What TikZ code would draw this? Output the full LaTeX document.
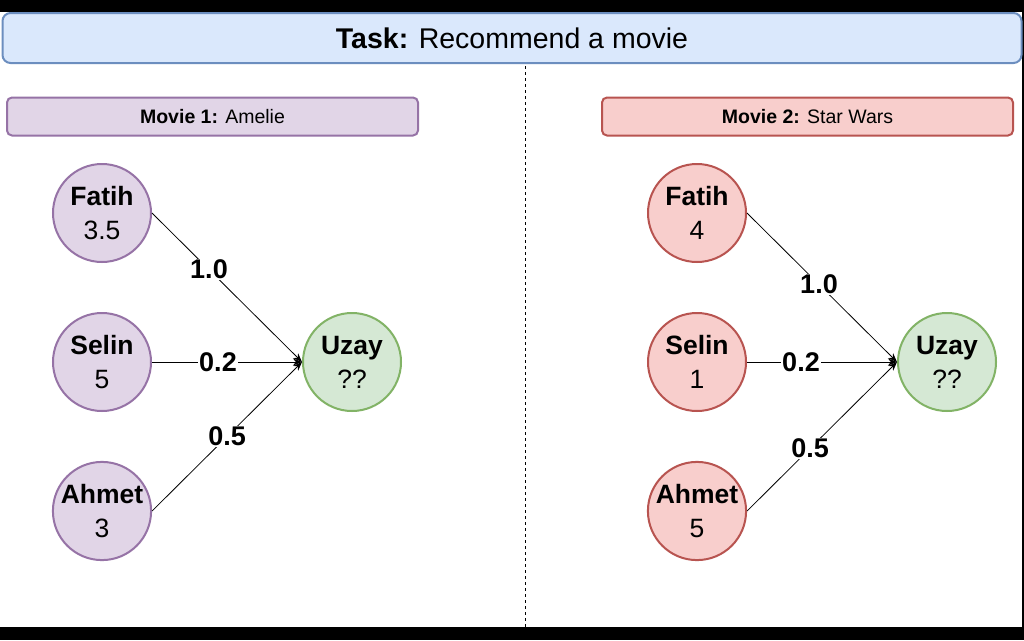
\documentclass[tikz,border=0pt]{standalone}
\usepackage{fontspec}
\setmainfont{Liberation Sans}
\usepackage{tikz}
\usetikzlibrary{arrows.meta}

\definecolor{taskfill}{HTML}{DAE8FC}
\definecolor{taskline}{HTML}{6C8EBF}
\definecolor{amefill}{HTML}{E1D5E7}
\definecolor{ameline}{HTML}{9673A6}
\definecolor{swfill}{HTML}{F8CECC}
\definecolor{swline}{HTML}{B85450}
\definecolor{uzfill}{HTML}{D5E8D4}
\definecolor{uzline}{HTML}{82B366}

\begin{document}
\begin{tikzpicture}[x=1pt, y=-1pt,
    person/.style={circle, draw, line width=2pt, minimum size=98pt, inner sep=0pt, align=center, font=\fontsize{26.5}{34}\selectfont},
    moviebox/.style={rectangle, rounded corners=5pt, draw, line width=2pt, minimum width=411pt, minimum height=38pt, font=\fontsize{19.5}{22}\selectfont},
    weight/.style={fill=white, inner sep=1pt, font=\fontsize{27}{30}\selectfont\bfseries},
    link/.style={-{Stealth[length=9pt,width=7pt]}, line width=0.8pt}]
    \useasboundingbox (0,0) rectangle (1024,640);
    \fill[white] (0,0) rectangle (1024,640);
    % screen edges
    \fill[black] (0,0) rectangle (1024,12);
    \fill[black] (0,627) rectangle (1024,640);
    \fill[black] (1022,12) rectangle (1024,627);

    % Task header
    \node[rectangle, rounded corners=8pt, draw=taskline, fill=taskfill, line width=2pt,
          minimum width=1019pt, minimum height=50pt, font=\fontsize{28.5}{32}\selectfont]
          (task) at (512,38) {\textbf{Task:} Recommend a movie};
    \draw[dashed, line width=0.8pt, dash pattern=on 3pt off 3pt] (525,66) -- (525,627);

    % Movie 1: Amelie
    \begin{scope}[shift={(0,0)}]
        \node[moviebox, draw=ameline, fill=amefill] (movie1) at (212.5,116.5) {\textbf{Movie 1:} Amelie};
        \node[person, draw=ameline, fill=amefill] (fatih1) at (102,213) {\textbf{Fatih}\\3.5};
        \node[person, draw=ameline, fill=amefill] (selin1) at (102,362) {\textbf{Selin}\\5};
        \node[person, draw=ameline, fill=amefill] (ahmet1) at (102,511) {\textbf{Ahmet}\\3};
        \node[person, draw=uzline, fill=uzfill] (uzay1) at (352,362) {\textbf{Uzay}\\??};

        \draw[link] (fatih1.east) -- node[weight, pos=0.38] {1.0} (uzay1.west);
        \draw[link] (selin1.east) -- node[weight, pos=0.44] {0.2} (uzay1.west);
        \draw[link] (ahmet1.east) -- node[weight, pos=0.5] {0.5} (uzay1.west);
    \end{scope}

    % Movie 2: Star Wars
    \begin{scope}[shift={(595,0)}]
        \node[moviebox, draw=swline, fill=swfill] (movie2) at (212.5,116.5) {\textbf{Movie 2:} Star Wars};
        \node[person, draw=swline, fill=swfill] (fatih2) at (102,213) {\textbf{Fatih}\\4};
        \node[person, draw=swline, fill=swfill] (selin2) at (102,362) {\textbf{Selin}\\1};
        \node[person, draw=swline, fill=swfill] (ahmet2) at (102,511) {\textbf{Ahmet}\\5};
        \node[person, draw=uzline, fill=uzfill] (uzay2) at (352,362) {\textbf{Uzay}\\??};

        \draw[link] (fatih2.east) -- node[weight, pos=0.48] {1.0} (uzay2.west);
        \draw[link] (selin2.east) -- node[weight, pos=0.36] {0.2} (uzay2.west);
        \draw[link] (ahmet2.east) -- node[weight, pos=0.42] {0.5} (uzay2.west);
    \end{scope}
\end{tikzpicture}
\end{document}
